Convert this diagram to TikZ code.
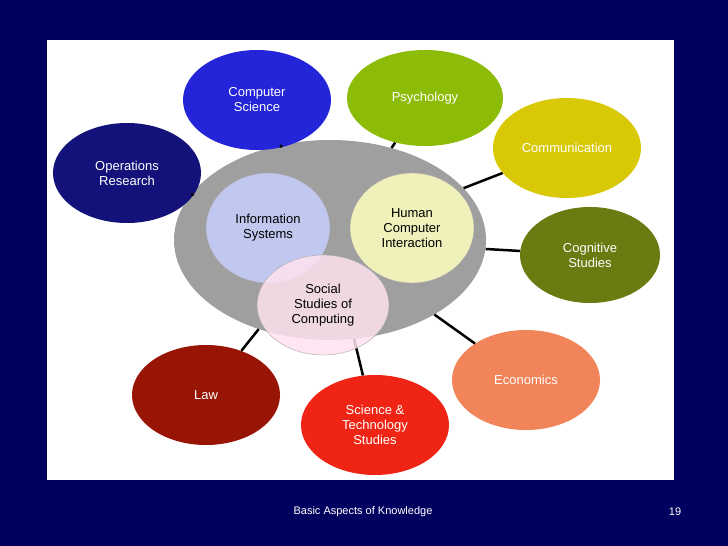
\documentclass[tikz,border=0pt]{standalone}
\usepackage{fontspec}
\setmainfont{Liberation Sans}
\usetikzlibrary{shapes.geometric, positioning}
\definecolor{slidebg}{HTML}{00005E}
\definecolor{cscol}{HTML}{2424D8}
\definecolor{psycol}{HTML}{8CBC08}
\definecolor{orcol}{HTML}{12127A}
\definecolor{comcol}{HTML}{D8C806}
\definecolor{cogcol}{HTML}{6C7A12}
\definecolor{ecocol}{HTML}{F2845A}
\definecolor{lawcol}{HTML}{981404}
\definecolor{stcol}{HTML}{F02414}
\definecolor{iscol}{HTML}{C8D0FF}
\definecolor{hcicol}{HTML}{FFFFC0}
\definecolor{ssccol}{HTML}{FFE2F0}
\begin{document}
\begin{tikzpicture}[x=1pt, y=-1pt,
        field/.style={ellipse, align=center, inner sep=0pt, font=\fontsize{13}{15}\selectfont},
        outerfield/.style={field, fill=#1, text=white, minimum width=148pt, minimum height=100pt},
        innerfield/.style={field, draw=gray!70, fill=#1, fill opacity=0.85, text opacity=1, minimum width=124pt, minimum height=110pt},
        link/.style={line width=2.5pt, black}
    ]
        % Slide and panel
        \fill[slidebg] (0,0) rectangle (728,546);
        \fill[white] (47,40) rectangle (674,480);

        % Grey base
        \node[ellipse, fill=gray!75, minimum width=312pt, minimum height=200pt] (base) at (330,240) {};

        % Outer fields
        \node[outerfield=cscol] (cs) at (257,100) {Computer\\Science};
        \node[outerfield=psycol, minimum width=156pt, minimum height=96pt] (psy) at (425,98) {Psychology};
        \node[outerfield=orcol] (or) at (127,173) {Operations\\Research};
        \node[outerfield=comcol] (com) at (567,148) {Communication};
        \node[outerfield=cogcol, minimum width=140pt, minimum height=96pt] (cog) at (590,255) {Cognitive\\Studies};
        \node[outerfield=ecocol] (eco) at (526,380) {Economics};
        \node[outerfield=lawcol] (law) at (206,395) {Law};
        \node[outerfield=stcol] (st) at (375,425) {Science \&\\Technology\\Studies};

        % Links
        \draw[link] (cs) -- (base);
        \draw[link] (psy) -- (base);
        \draw[link] (or) -- (base);
        \draw[link] (com) -- (base);
        \draw[link] (cog) -- (base);
        \draw[link] (eco) -- (base);
        \draw[link] (law) -- (base);
        \draw[link] (st) -- (base);

        % Inner fields
        \node[innerfield=iscol] (is) at (268,228) {Information\\Systems};
        \node[innerfield=hcicol] (hci) at (412,228) {Human\\Computer\\Interaction};
        \node[innerfield=ssccol, minimum width=132pt, minimum height=100pt] (ssc) at (323,305) {Social\\Studies of\\Computing};

        % Footer
        \node[text=white, font=\fontsize{11}{13}\selectfont] (title) at (363,512) {Basic Aspects of Knowledge};
        \node[text=white, font=\fontsize{11}{13}\selectfont] (page) at (675,512) {19};
    \end{tikzpicture}
\end{document}
